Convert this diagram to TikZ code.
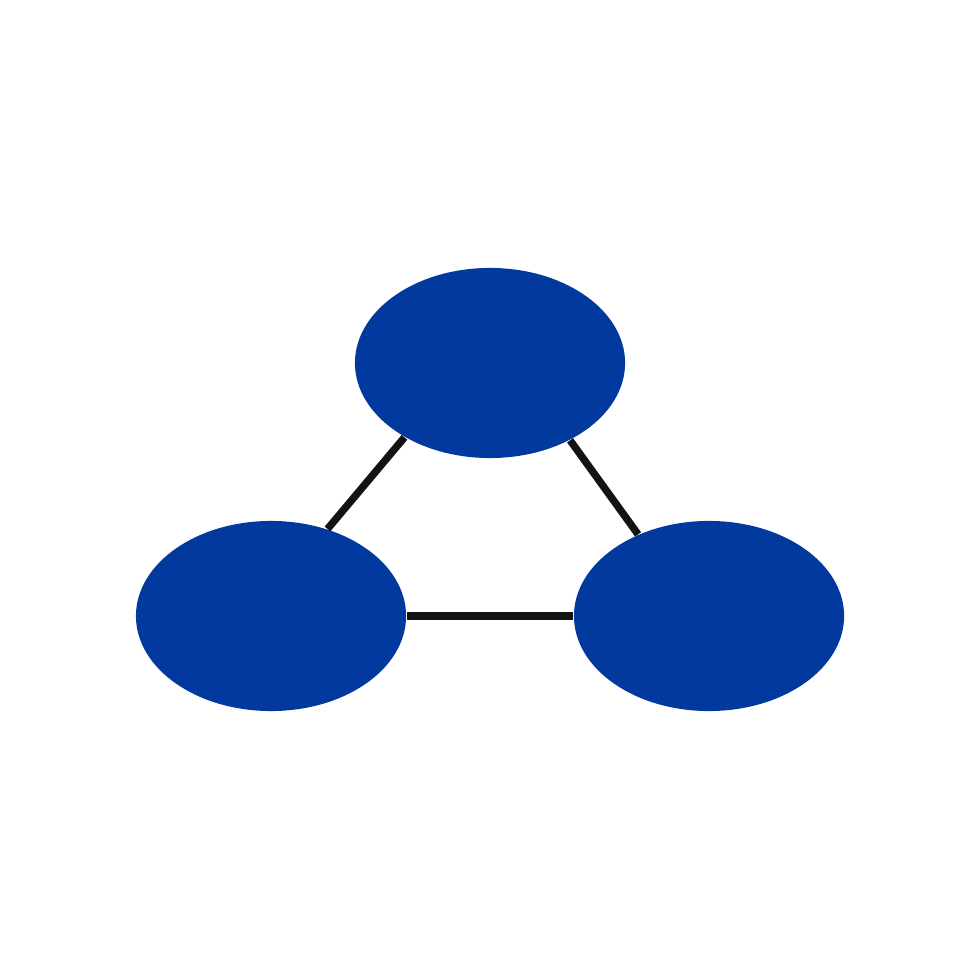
\documentclass[tikz,border=0pt]{standalone}
\usetikzlibrary{shapes.geometric}
\definecolor{nodeblue}{RGB}{2,57,158}
\definecolor{edgeblack}{RGB}{18,20,20}
\tikzset{
  blob/.style={ellipse, fill=nodeblue, draw=none, minimum width=2.70cm, minimum height=1.90cm, inner sep=0pt},
  link/.style={draw=edgeblack, line width=2.1pt}
}
\begin{document}
\begin{tikzpicture}[x=0.01cm,y=-0.01cm]
\useasboundingbox[fill=white] (0,0) rectangle (980,980);
\node[blob] (top) at (490,363) {};
\node[blob] (left) at (271,616) {};
\node[blob] (right) at (709,616) {};
\draw[link] (top.221) -- (left.57.5);
\draw[link] (top.316) -- (right.131.6);
\draw[link] (left.0) -- (right.180);
\end{tikzpicture}
\end{document}
